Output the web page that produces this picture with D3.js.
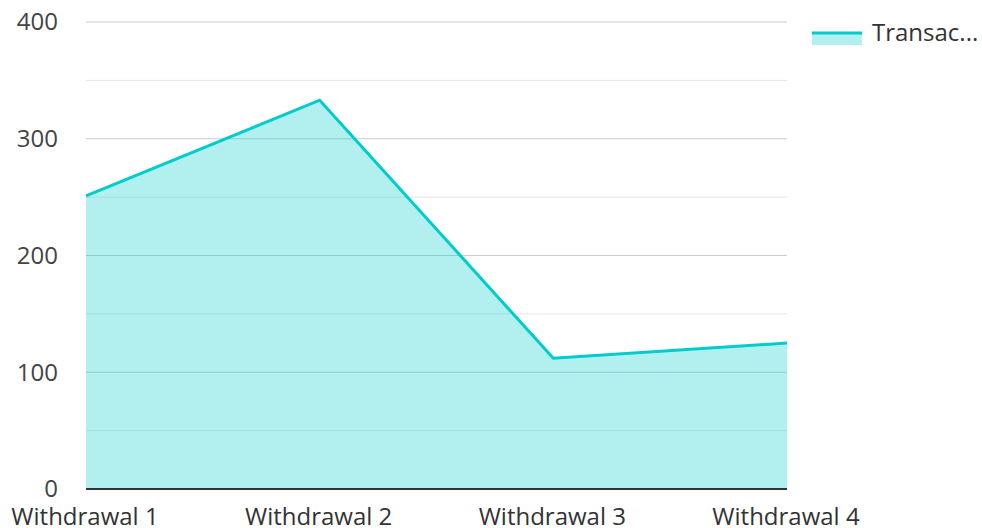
<!DOCTYPE html>
<html>
<head>
<meta charset="utf-8">
<script src="https://cdn.jsdelivr.net/npm/d3@7"></script>
<style>
  body { margin: 0; background: #fff; }
  text { font-family: "Open Sans", "Noto Sans", sans-serif; }
</style>
</head>
<body>
<div id="chart"></div>
<script>
const categories = ["Withdrawal 1", "Withdrawal 2", "Withdrawal 3", "Withdrawal 4"];
const transactions = [251, 333, 112, 125];
const yTicks = [0, 100, 200, 300, 400];
const yMinor = [50, 150, 250, 350];
const seriesName = "Transac...";

const fullWidth = 982, fullHeight = 528;
const margin = { top: 22, right: 195, bottom: 39, left: 86 };
const width = fullWidth - margin.left - margin.right;
const height = fullHeight - margin.top - margin.bottom;

const svg = d3.select("#chart")
  .append("svg")
  .attr("width", fullWidth)
  .attr("height", fullHeight)
  .append("g")
  .attr("transform", `translate(${margin.left},${margin.top})`);

const x = d3.scalePoint().domain(categories).range([0, width]);
const y = d3.scaleLinear().domain([0, 400]).range([height, 0]);

// gridlines
svg.selectAll(".minor").data(yMinor).enter().append("line")
  .attr("x1", 0).attr("x2", width)
  .attr("y1", d => y(d)).attr("y2", d => y(d))
  .attr("stroke", "#e6e6e6").attr("stroke-width", 1);
svg.selectAll(".major").data(yTicks.filter(d => d > 0)).enter().append("line")
  .attr("x1", 0).attr("x2", width)
  .attr("y1", d => y(d)).attr("y2", d => y(d))
  .attr("stroke", "#cccccc").attr("stroke-width", 1);

const data = categories.map((c, i) => ({ c, v: transactions[i] }));

svg.append("path")
  .datum(data)
  .attr("fill", "rgba(0,204,204,0.3)")
  .attr("d", d3.area().x(d => x(d.c)).y0(y(0)).y1(d => y(d.v)));

svg.append("path")
  .datum(data)
  .attr("fill", "none")
  .attr("stroke", "#00cccc")
  .attr("stroke-width", 3)
  .attr("stroke-linejoin", "miter")
  .attr("d", d3.line().x(d => x(d.c)).y(d => y(d.v)));

// baseline
svg.append("line")
  .attr("x1", 0).attr("x2", width)
  .attr("y1", y(0)).attr("y2", y(0))
  .attr("stroke", "#333").attr("stroke-width", 2);

// y labels
svg.selectAll(".ylab").data(yTicks).enter().append("text")
  .attr("x", -28).attr("y", d => y(d))
  .attr("dy", "0.35em")
  .attr("text-anchor", "end")
  .attr("font-size", 24)
  .attr("fill", "#444")
  .text(d => d);

// x labels
svg.selectAll(".xlab").data(categories).enter().append("text")
  .attr("x", d => x(d) - 1).attr("y", height + 36)
  .attr("text-anchor", "middle")
  .attr("font-size", 24)
  .attr("fill", "#333")
  .text(d => d);

// legend
const lg = svg.append("g").attr("transform", `translate(${width + 25},0)`);
lg.append("rect").attr("x", 0).attr("y", 11).attr("width", 50).attr("height", 12)
  .attr("fill", "rgba(0,204,204,0.3)");
lg.append("line").attr("x1", 0).attr("x2", 50).attr("y1", 11).attr("y2", 11)
  .attr("stroke", "#00cccc").attr("stroke-width", 3);
lg.append("text").attr("x", 60).attr("y", 11).attr("dy", "0.35em")
  .attr("font-size", 24).attr("fill", "#333").text(seriesName);
</script>
</body>
</html>
